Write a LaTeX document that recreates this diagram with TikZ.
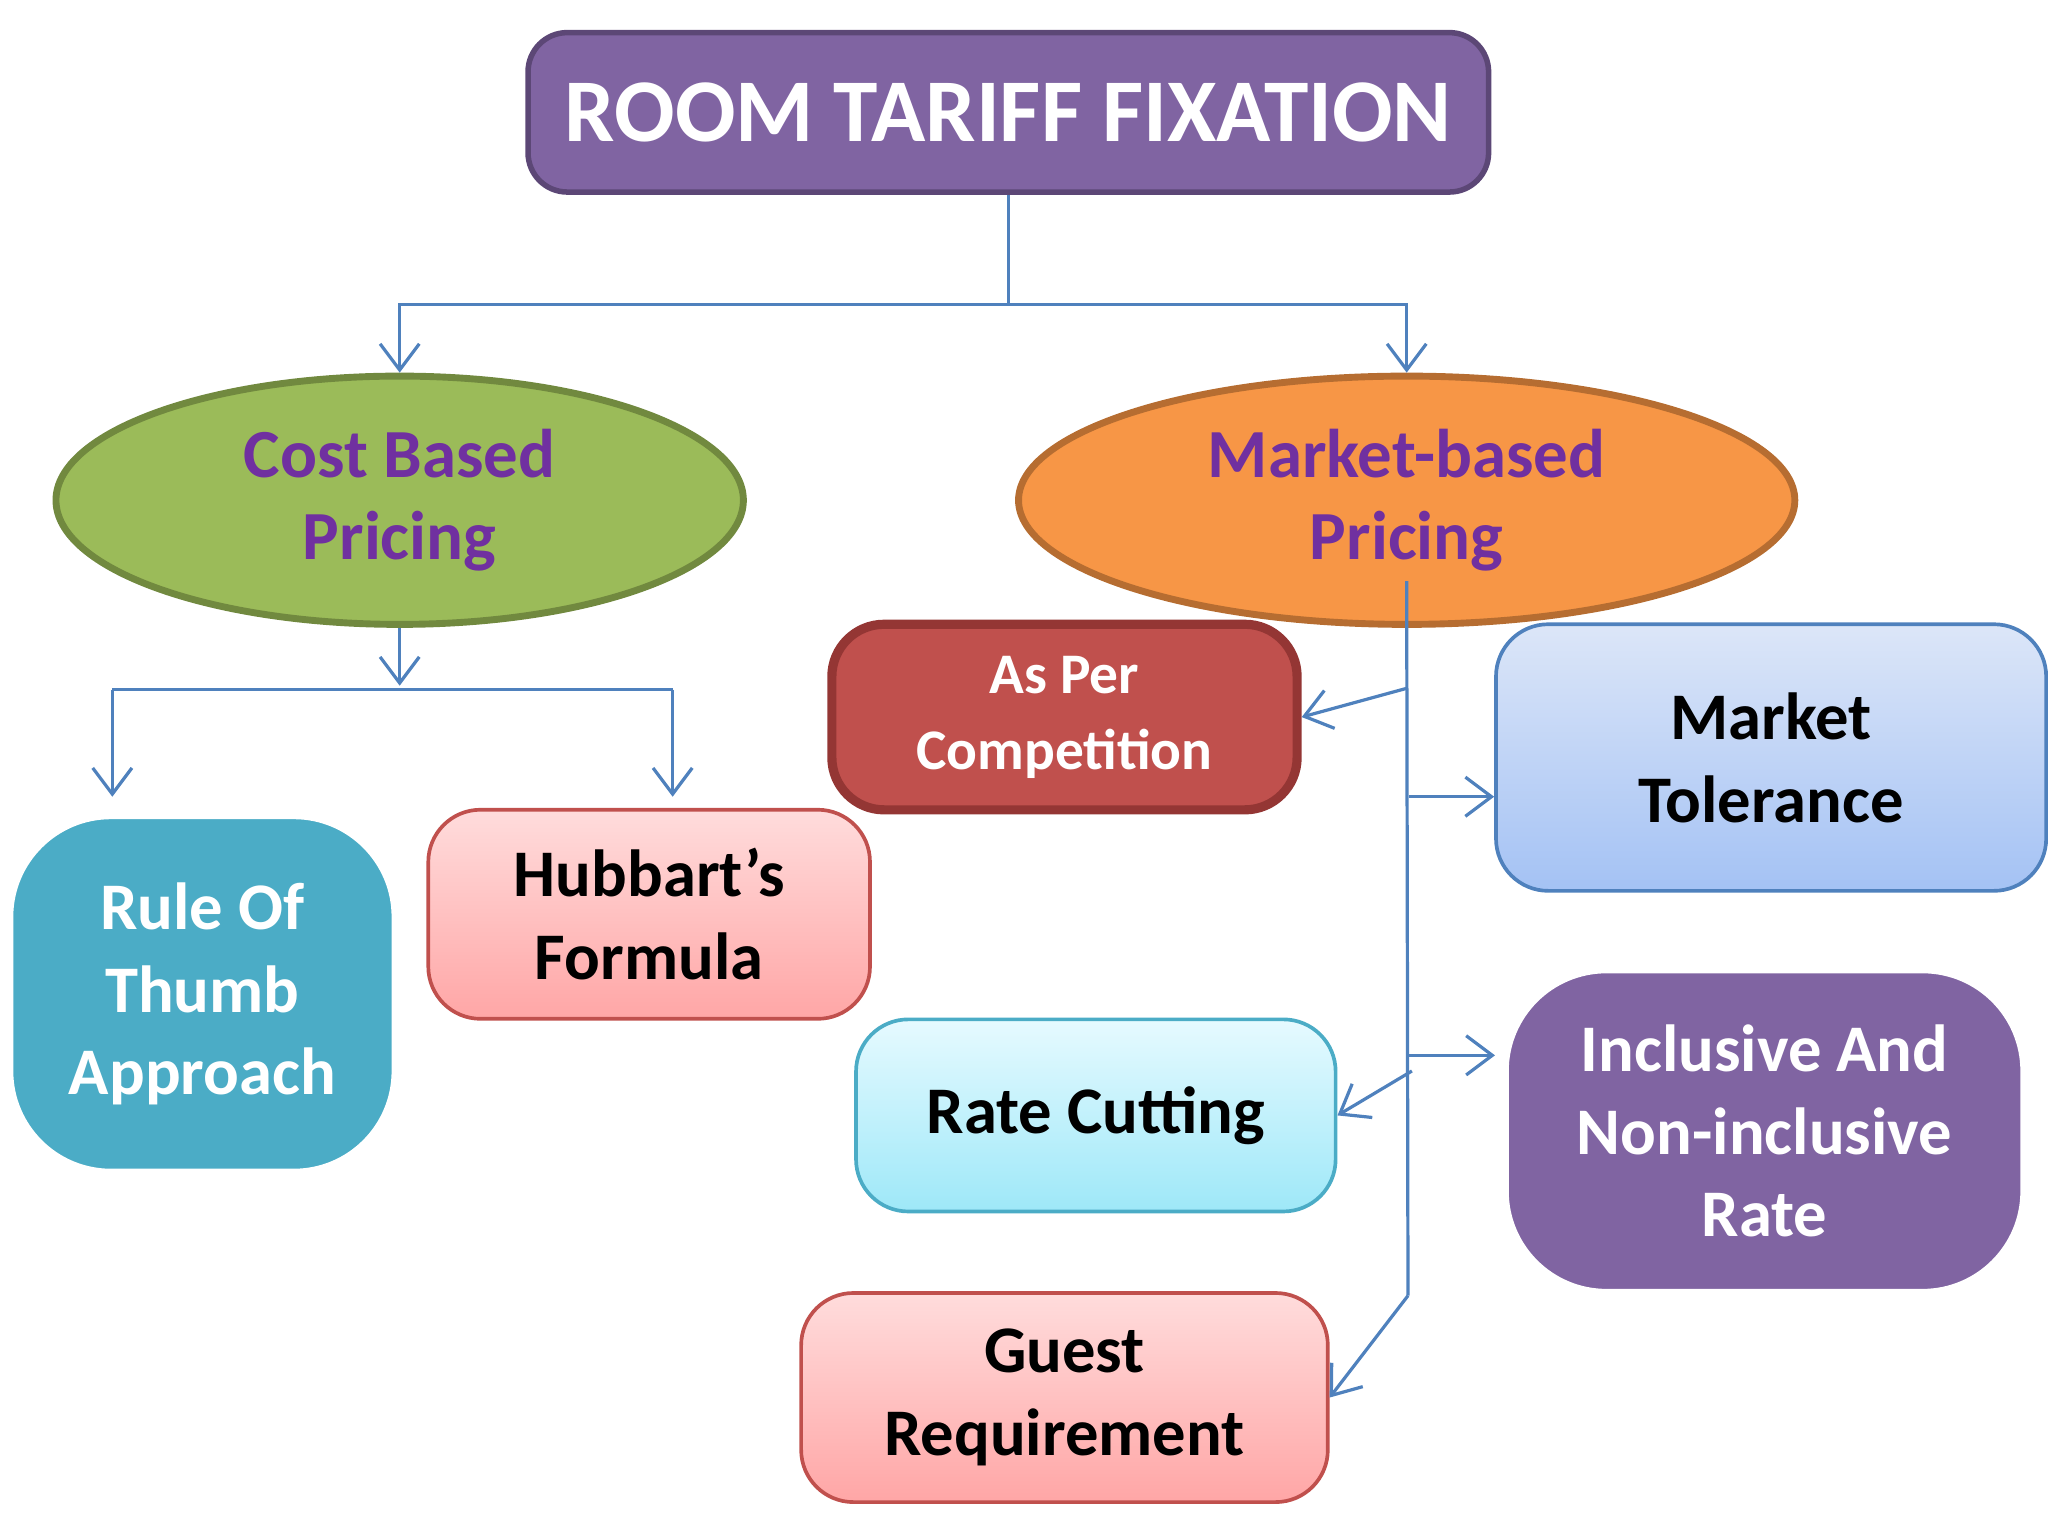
\documentclass[tikz,border=0pt]{standalone}
\usepackage{fontspec}
\setmainfont{Carlito}
\usetikzlibrary{shapes.geometric,arrows.meta}
\definecolor{purp}{HTML}{8064A2}
\definecolor{purpd}{HTML}{5C4776}
\definecolor{lblue}{HTML}{4F81BD}
\definecolor{txtp}{HTML}{7030A0}
\definecolor{olive}{HTML}{9BBB59}
\definecolor{olived}{HTML}{71893F}
\definecolor{orng}{HTML}{F79646}
\definecolor{orngd}{HTML}{B66D31}
\definecolor{aqua}{HTML}{4BACC6}
\definecolor{redd}{HTML}{C0504D}
\definecolor{reddk}{HTML}{943634}
\definecolor{pinkt}{HTML}{FFDCDC}
\definecolor{pinkb}{HTML}{FFA6A6}
\definecolor{bluet}{HTML}{DCE6F8}
\definecolor{blueb}{HTML}{A4C2F4}
\definecolor{cyant}{HTML}{E6FAFF}
\definecolor{cyanb}{HTML}{9EE8F8}
\tikzset{
  box/.style={rounded corners=4mm,draw,line width=1.2pt,align=center,inner sep=0pt,font=\bfseries\fontsize{14.5}{18}\selectfont},
  link/.style={draw=lblue,line width=0.7pt},
  arr/.style={link,-{Straight Barb[length=2mm,width=3mm]}},
  oval/.style={ellipse,draw,line width=1.5pt,align=center,inner sep=0pt,text=txtp,font=\bfseries\fontsize{15}{18}\selectfont}
}
\begin{document}
\begin{tikzpicture}[x=0.01cm,y=-0.01cm]
\useasboundingbox (0,0) rectangle (1568,1176);
\node[box,fill=purp,draw=purpd,text=white,minimum width=7.35cm,minimum height=1.22cm,rounded corners=3mm,font=\fontsize{19.5}{24}\selectfont\bfseries] (title) at (772,86) {ROOM TARIFF FIXATION};
\node[oval,fill=olive,draw=olived,minimum width=5.26cm,minimum height=1.9cm] (cost) at (306,383) {Cost Based\\Pricing};
\node[oval,fill=orng,draw=orngd,minimum width=5.94cm,minimum height=1.9cm] (market) at (1077,383) {Market-based\\Pricing};
\node[box,fill=aqua,draw=white,line width=3pt,text=white,rounded corners=8mm,minimum width=3cm,minimum height=2.78cm] (thumb) at (155,761) {Rule Of\\Thumb\\Approach};
\node[box,draw=redd,line width=0.8pt,top color=pinkt,bottom color=pinkb,minimum width=3.38cm,minimum height=1.6cm] (hubbart) at (497,700) {Hubbart's\\Formula};
\node[box,fill=redd,draw=reddk,line width=2pt,text=white,minimum width=3.56cm,minimum height=1.42cm,font=\bfseries\fontsize{12.5}{16.5}\selectfont] (compet) at (815,549) {As Per\\Competition};
\node[box,draw=lblue,line width=0.8pt,top color=bluet,bottom color=blueb,minimum width=4.21cm,minimum height=2.04cm] (toler) at (1356,580) {Market\\Tolerance};
\node[box,draw=aqua,line width=0.8pt,top color=cyant,bottom color=cyanb,minimum width=3.67cm,minimum height=1.47cm] (cutting) at (839,854) {Rate Cutting};
\node[box,fill=purp,draw=white,line width=3pt,text=white,rounded corners=8mm,minimum width=4.02cm,minimum height=2.52cm] (incl) at (1351,866) {Inclusive And\\Non-inclusive\\Rate};
\node[box,draw=redd,line width=0.8pt,top color=pinkt,bottom color=pinkb,minimum width=4.03cm,minimum height=1.6cm] (guest) at (815,1070) {Guest\\Requirement};
% connectors
\coordinate (split) at (772,233);
\coordinate (csplit) at (306,528);
\coordinate (spine) at (1078,992);
\draw[link] (title.south) -- (split);
\draw[arr] (split) -| (cost.north);
\draw[arr] (split) -| (market.north);
\draw[arr] (cost.south) -- ([yshift=0.03cm]csplit);
\draw[link] (86,528) -- (515,528);
\draw[arr] (86,528) -- (86,610);
\draw[arr] (515,528) -- (515,610);
\draw[link] (1077,445) -- (spine);
\draw[arr] (1077,527) -- (compet.east);
\draw[arr] (1079,610) -- (toler.west |- 0,610);
\draw[arr] (1079,808) -- (incl.west |- 0,808);
\draw[arr] (1081,820) -- (cutting.east);
\draw[arr] (spine) -- (guest.east);
\end{tikzpicture}
\end{document}
